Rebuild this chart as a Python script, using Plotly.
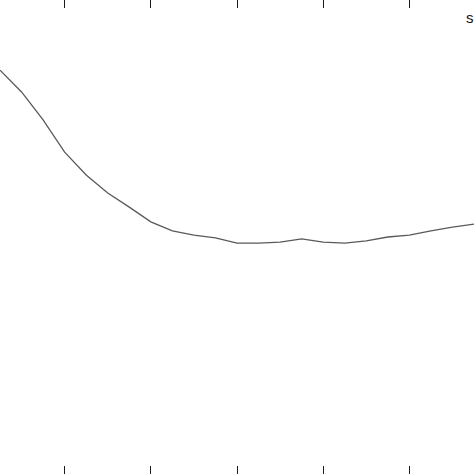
import plotly.graph_objects as go

# Data (x = step index, y = value)
steps = list(range(23))
values = [8.52, 8.06, 7.47, 6.79, 6.31, 5.93, 5.63, 5.32, 5.13, 5.04, 4.98,
          4.87, 4.87, 4.89, 4.96, 4.89, 4.87, 4.92, 5.00, 5.04, 5.13, 5.21, 5.27]
tick_positions = [3, 7, 11, 15, 19]

fig = go.Figure()

# Single grey curve
fig.add_trace(go.Scatter(
    x=steps,
    y=values,
    mode="lines",
    line=dict(color="#5a5a5a", width=1.3),
    showlegend=False,
))

# Legend fragment cut off at the right edge
fig.add_annotation(
    text="s", xref="paper", yref="paper", x=0.9915, y=1 - 17 / 474,
    xanchor="center", yanchor="middle", showarrow=False,
    font=dict(family="Liberation Sans, Arial", size=15, color="#111111"),
)

fig.update_layout(
    width=474,
    height=474,
    margin=dict(l=0, r=0, t=0, b=0),
    plot_bgcolor="white",
    paper_bgcolor="white",
    xaxis=dict(
        range=[0, 22], tickvals=tick_positions, showticklabels=False,
        ticks="inside", ticklen=8, tickwidth=1.3, tickcolor="#1a1a1a",
        mirror="ticks", showline=False, showgrid=False, zeroline=False,
    ),
    yaxis=dict(
        range=[0, 10], showticklabels=False, ticks="",
        showline=False, showgrid=False, zeroline=False,
    ),
)

# drop the default page margin so the figure sits at the window corner
fig.write_html(
    "out.html",
    config={"displayModeBar": False},
    post_script="document.body.style.margin = '0';",
)
